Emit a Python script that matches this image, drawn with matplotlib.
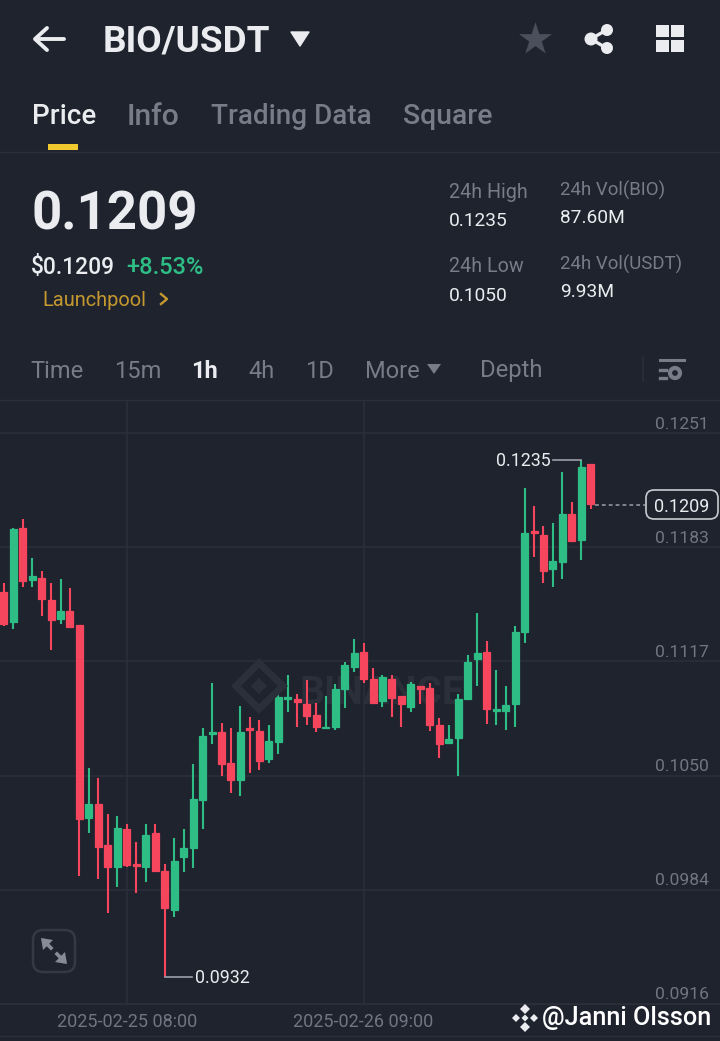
import matplotlib
matplotlib.use("Agg")
import matplotlib.pyplot as plt
from matplotlib.patches import Rectangle, FancyBboxPatch, Polygon, Circle

plt.rcParams['font.family'] = ['Roboto', 'DejaVu Sans']

# ---------- data ----------
opens = [.11577,.11401,.11953,.11648,.11659,.11530,.11419,.11466,.11384,.10251,
         .10333,.10093,.09964,.10186,.09981,.09964,.10163,.09940,.09711,.10022,
         .10075,.10357,.10744,.10756,.10574,.10474,.10779,.10762,.10597,.10697,
         .10949,.10949,.10920,.10856,.10779,.10786,.11008,.11137,.11225,.11067,
         .10938,.11067,.10967,.10902,.11026,.11014,.10797,.10691,.10721,.10949,
         .11184,.11225,.10879,.10879,.10920,.11342,.11935,.11912,.11712,.11753,
         .12035,.11882,.12328]
closes = [.11389,.11947,.11642,.11671,.11536,.11413,.11466,.11372,.10245,.10333,
          .10081,.09964,.10192,.09975,.09970,.10151,.09940,.09723,.09999,.10075,
          .10363,.10732,.10756,.10568,.10474,.10756,.10768,.10586,.10703,.10961,
          .10961,.10932,.10850,.10786,.10786,.11008,.11149,.11219,.11067,.10926,
          .11079,.10955,.10920,.11037,.11008,.10797,.10685,.10715,.10949,.11166,
          .11219,.10891,.10891,.10914,.11342,.11923,.11923,.11700,.11759,.12035,
          .11876,.12311,.12093]
highs = [.11630,.11953,.12005,.11777,.11700,.11630,.11653,.11601,.11384,.10544,
         .10486,.10275,.10263,.10216,.10110,.10216,.10216,.09981,.10134,.10186,
         .10568,.10779,.11043,.10809,.10779,.10908,.10844,.10826,.10797,.10979,
         .11090,.10979,.11061,.10926,.10967,.11037,.11166,.11301,.11278,.11131,
         .11090,.11090,.10967,.11049,.11026,.11043,.10838,.10797,.10979,.11208,
         .11454,.11290,.11120,.11026,.11378,.12187,.12082,.11964,.11982,.12281,
         .12105,.12352,.12328]
lows = [.11378,.11360,.11607,.11607,.11436,.11237,.11389,.11366,.09911,.10163,
        .09893,.09694,.09846,.09964,.09811,.09875,.09940,.09320,.09670,.09934,
        .09958,.10186,.10685,.10500,.10398,.10380,.10515,.10533,.10574,.10627,
        .10873,.10786,.10797,.10756,.10774,.10768,.10897,.11108,.11043,.10926,
        .10902,.10844,.10786,.10873,.10920,.10762,.10603,.10691,.10500,.10949,
        .11026,.10803,.10797,.10768,.10786,.11278,.11782,.11630,.11607,.11653,
        .11871,.11765,.12064]
price_ticks = [.1251,.1184,.1117,.1050,.0983,.0916]
price_labels = ['0.1251','0.1183','0.1117','0.1050','0.0984','0.0916']
time_idx = [13,38]
time_labels = ['2025-02-25 08:00','2025-02-26 09:00']
high_idx, high_val = 61, .1235
low_idx, low_val = 17, .0932
last_price = .1209

BG='#1e232e'; GRID='#2a2f3a'; GREEN='#2ebd85'; RED='#f6465d'
GRAY='#6f7682'; DIM='#767c88'; WHITE='#eaecef'

W,H=720,1041
fig=plt.figure(figsize=(W/100,H/100),dpi=100,facecolor=BG)

# ---------- chart axes: y pixels 400..1004 ----------
ax=fig.add_axes([0,1-1004/H,1,604/H],facecolor=BG)
ax.set_xlim(-0.39,75.64)
ax.set_ylim(.0916,.12704)
for s in ['left','right','top']:
    ax.spines[s].set_visible(False)
ax.spines['bottom'].set_color(GRID)
ax.set_yticks(price_ticks); ax.set_yticklabels([])
ax.set_xticks(time_idx); ax.set_xticklabels(time_labels,color=GRAY,fontsize=13)
ax.tick_params(axis='both',length=0)
ax.tick_params(axis='x',pad=6.5)
ax.grid(True,color=GRID,lw=1.1,zorder=0)
ax.set_axisbelow(True)

for p,l in zip(price_ticks,price_labels):
    ax.annotate(l,xy=(1,p),xycoords=('axes fraction','data'),xytext=(-8,6.5),
                textcoords='offset points',ha='right',va='center',color=GRAY,fontsize=12.6)

for i,(o,c,h,l) in enumerate(zip(opens,closes,highs,lows)):
    col=GREEN if c>=o else RED
    ax.vlines(i,l,h,color=col,lw=1.5,zorder=3)
    ax.bar(i,abs(c-o),bottom=min(o,c),width=0.74,color=col,edgecolor=col,lw=0.9,zorder=4)

# watermark
ax.text(296/9.47,.1098,'BINANCE',color='#2a2f3a',fontsize=28,fontweight='bold',
        ha='left',va='center',zorder=1)

# extreme labels
ax.plot([low_idx,low_idx+2.85],[low_val,low_val],color='#9a9fa8',lw=1.2,zorder=5)
ax.text(low_idx+3.2,low_val-0.00005,f'{low_val:.4f}',color=WHITE,fontsize=12.8,va='center',ha='left',zorder=5)
ax.plot([high_idx,high_idx-3],[high_val,high_val],color='#9a9fa8',lw=1.2,zorder=5)
ax.text(high_idx-3.25,high_val-0.00003,f'{high_val:.4f}',color=WHITE,fontsize=12.8,va='center',ha='right',zorder=5)
ax.plot([62.4,67.7],[last_price,last_price],color='#9a9fa8',lw=1.1,ls=(0,(2.5,2)),zorder=5)

# ---------- overlay in pixel coordinates ----------
ui=fig.add_axes([0,0,1,1],facecolor='none')
ui.set_xlim(0,W); ui.set_ylim(H,0); ui.axis('off')

def t(x,y,s,color=DIM,size=14,weight='normal',ha='left'):
    ui.text(x,y+2,s,color=color,fontsize=size,fontweight=weight,ha=ha,va='center')

# header
ui.plot([36,64],[39,39],color=WHITE,lw=2.8,solid_capstyle='round')
ui.plot([47,35,47],[28,39,50],color=WHITE,lw=2.8,solid_capstyle='round',solid_joinstyle='round')
t(103,39,'BIO/USDT',WHITE,26.6,'bold')
ui.add_patch(Polygon([(291,32),(309,32),(300,46)],fc=WHITE,ec=WHITE,lw=1,joinstyle='round'))
ui.scatter([535],[39],marker='*',s=620,color='#4a4f5b',lw=0)
for a,b in [((608,29),(591,39)),((591,39),(608,49))]:
    ui.plot([a[0],b[0]],[a[1],b[1]],color=WHITE,lw=2.4)
for cx,cy,r in [(607,30,6),(591,39,6.5),(607,48,6)]:
    ui.add_patch(Circle((cx,cy),r,fc=WHITE,ec='none'))
for x0,y0 in [(656,25),(671,25),(656,40),(671,40)]:
    ui.add_patch(Rectangle((x0,y0),12.5,12,fc=WHITE,ec='none'))

# tabs
t(32,115,'Price',WHITE,20,'medium')
t(127,115,'Info',DIM,21.6,'medium')
t(211,115,'Trading Data',DIM,20.1,'medium')
t(403,115,'Square',DIM,20.4,'medium')
ui.add_patch(Rectangle((48,144),30,6,fc='#f0c92e',ec='none'))
ui.plot([0,W],[151.5,151.5],color=GRID,lw=1)

# price block
t(31,213,'0.1209',WHITE,38,'bold')
t(31,266,'$0.1209',WHITE,16.4,'medium')
t(126,266,'+8.53%',GREEN,17,'medium')
t(42,298,'Launchpool','#c4982f',14.4)
ui.plot([161,167,161],[294,299,304],color='#c4982f',lw=1.7)

# stats
t(449,191,'24h High',DIM,14.2)
t(449,219,'0.1235',WHITE,13.8)
t(560,188,'24h Vol(BIO)',DIM,13.4)
t(560,216,'87.60M',WHITE,13.8)
t(449,264,'24h Low',DIM,14.2)
t(449,294,'0.1050',WHITE,13.8)
t(560,262,'24h Vol(USDT)',DIM,13.4)
t(560,290,'9.93M',WHITE,13.8)

# interval row
t(30,369,'Time',DIM,17)
t(114,369,'15m',DIM,17)
t(191,369,'1h',WHITE,17,'bold')
t(248,369,'4h',DIM,17)
t(305,369,'1D',DIM,17)
t(365,369,'More',DIM,17)
ui.add_patch(Polygon([(427,364),(441,364),(434,374)],fc=DIM,ec='none'))
t(480,369,'Depth',DIM,17.2)
ui.plot([642.5,642.5],[357,381],color=GRID,lw=1.2)
ui.plot([660,684],[360,360],color=DIM,lw=2.2)
ui.plot([660,666],[370,370],color=DIM,lw=2.4)
ui.plot([660,666],[378,378],color=DIM,lw=2.4)
ui.add_patch(Circle((675,373),5,fc='none',ec=DIM,lw=3))
ui.plot([0,W],[400,400],color=GRID,lw=1)

# last price box
ui.add_patch(FancyBboxPatch((646,490),72,29,boxstyle='round,pad=0,rounding_size=8',
                            fc=BG,ec='#c8ccd2',lw=1.2,zorder=3))
ui.text(682,507,'0.1209',color=WHITE,fontsize=13,ha='center',va='center',zorder=4)

# expand button
ui.add_patch(FancyBboxPatch((33,930),42,42,boxstyle='round,pad=0,rounding_size=10',
                            fc=BG,ec='#343944',lw=1.8))
ui.plot([44,51],[941,948],color='#868b95',lw=2.6)
ui.plot([57,64],[954,961],color='#868b95',lw=2.6)
ui.add_patch(Polygon([(41,938),(53,940),(43,950)],fc='#868b95',ec='none'))
ui.add_patch(Polygon([(67,964),(55,962),(65,952)],fc='#868b95',ec='none'))

# footer
ui.plot([0,W],[1035.5,1035.5],color=GRID,lw=1)
for cx,cy,r in [(525,1009,5),(525,1027,5),(516,1018,4),(534,1018,4),(525,1018,3.5)]:
    ui.add_patch(Polygon([(cx,cy-r),(cx+r,cy),(cx,cy+r),(cx-r,cy)],fc=WHITE,ec='none'))
t(542,1016,'@Janni Olsson','#ffffff',18.2,'medium')

# watermark logo
ui.add_patch(Polygon([(259,663),(283,686),(259,709),(236,686)],fc='none',ec='#2a2f3a',lw=5,zorder=0.5))
ui.add_patch(Polygon([(259,678),(267,686),(259,694),(251,686)],fc='#2a2f3a',ec='none',zorder=0.5))

fig.savefig('out.png',dpi=100,facecolor=BG)
